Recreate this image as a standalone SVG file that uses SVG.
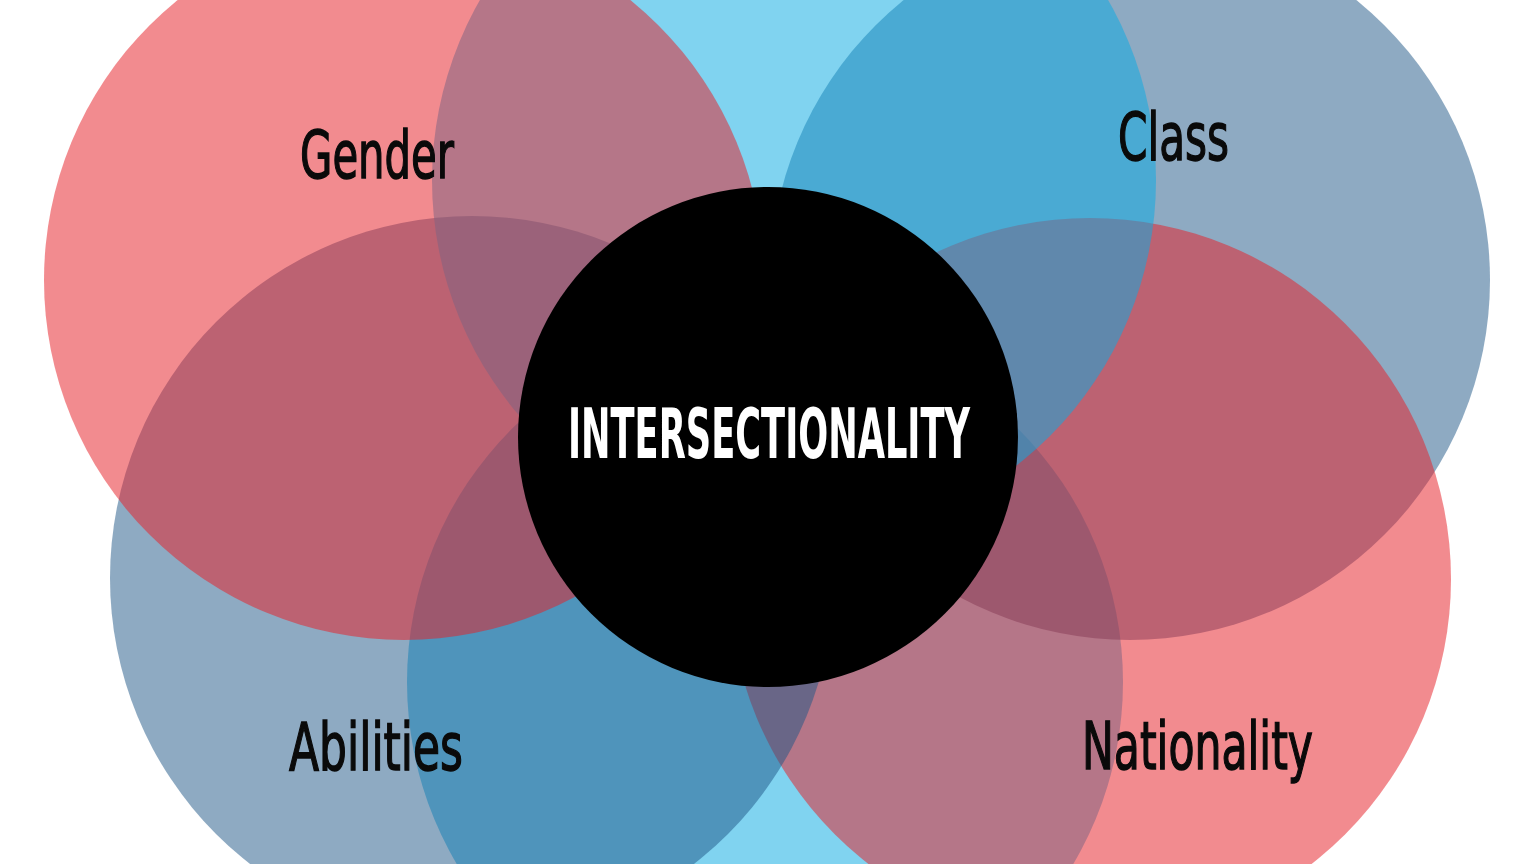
<svg xmlns="http://www.w3.org/2000/svg" width="1536" height="864" viewBox="0 0 1536 864">
  <style>
    .pink { fill: #e62028; fill-opacity: 0.52; }
    .steel { fill: #1d5585; fill-opacity: 0.5; }
    .sky { fill: #0baae2; fill-opacity: 0.52; }
    .label { font-family: "DejaVu Sans Condensed", "DejaVu Sans", "Liberation Sans", sans-serif; font-stretch: condensed; font-weight: normal; font-size: 66px; fill: #0a0a0a; stroke: #0a0a0a; stroke-width: 1.4px; }
    .title { font-family: "DejaVu Sans Condensed", "DejaVu Sans", "Liberation Sans", sans-serif; font-stretch: condensed; font-weight: bold; font-size: 69px; fill: #ffffff; }
  </style>
  <rect width="1536" height="864" fill="#ffffff"/>
  <g id="circles">
    <g id="node-bottom-overlap"><circle class="sky" cx="765" cy="682" r="358"/></g>
    <g id="node-class"><circle class="steel" cx="1130" cy="280" r="360"/></g>
    <g id="node-nationality"><circle class="pink" cx="1090" cy="579" r="361"/></g>
    <g id="node-abilities"><circle class="steel" cx="472" cy="578" r="362"/></g>
    <g id="node-top-overlap"><circle class="sky" cx="794" cy="180" r="362"/></g>
    <g id="node-gender"><circle class="pink" cx="404" cy="280" r="360"/></g>
  </g>
  <g id="node-intersectionality">
    <circle cx="768" cy="437" r="250" fill="#000000"/>
    <text class="title" x="568" y="458" textLength="402" lengthAdjust="spacingAndGlyphs">INTERSECTIONALITY</text>
  </g>
  <g id="labels">
    <text id="label-gender" class="label" x="300" y="178" textLength="154" lengthAdjust="spacingAndGlyphs">Gender</text>
    <text id="label-class" class="label" x="1118" y="160" textLength="111" lengthAdjust="spacingAndGlyphs">Class</text>
    <text id="label-abilities" class="label" x="289" y="770" textLength="174" lengthAdjust="spacingAndGlyphs">Abilities</text>
    <text id="label-nationality" class="label" x="1082" y="769" textLength="231" lengthAdjust="spacingAndGlyphs">Nationality</text>
  </g>
</svg>
